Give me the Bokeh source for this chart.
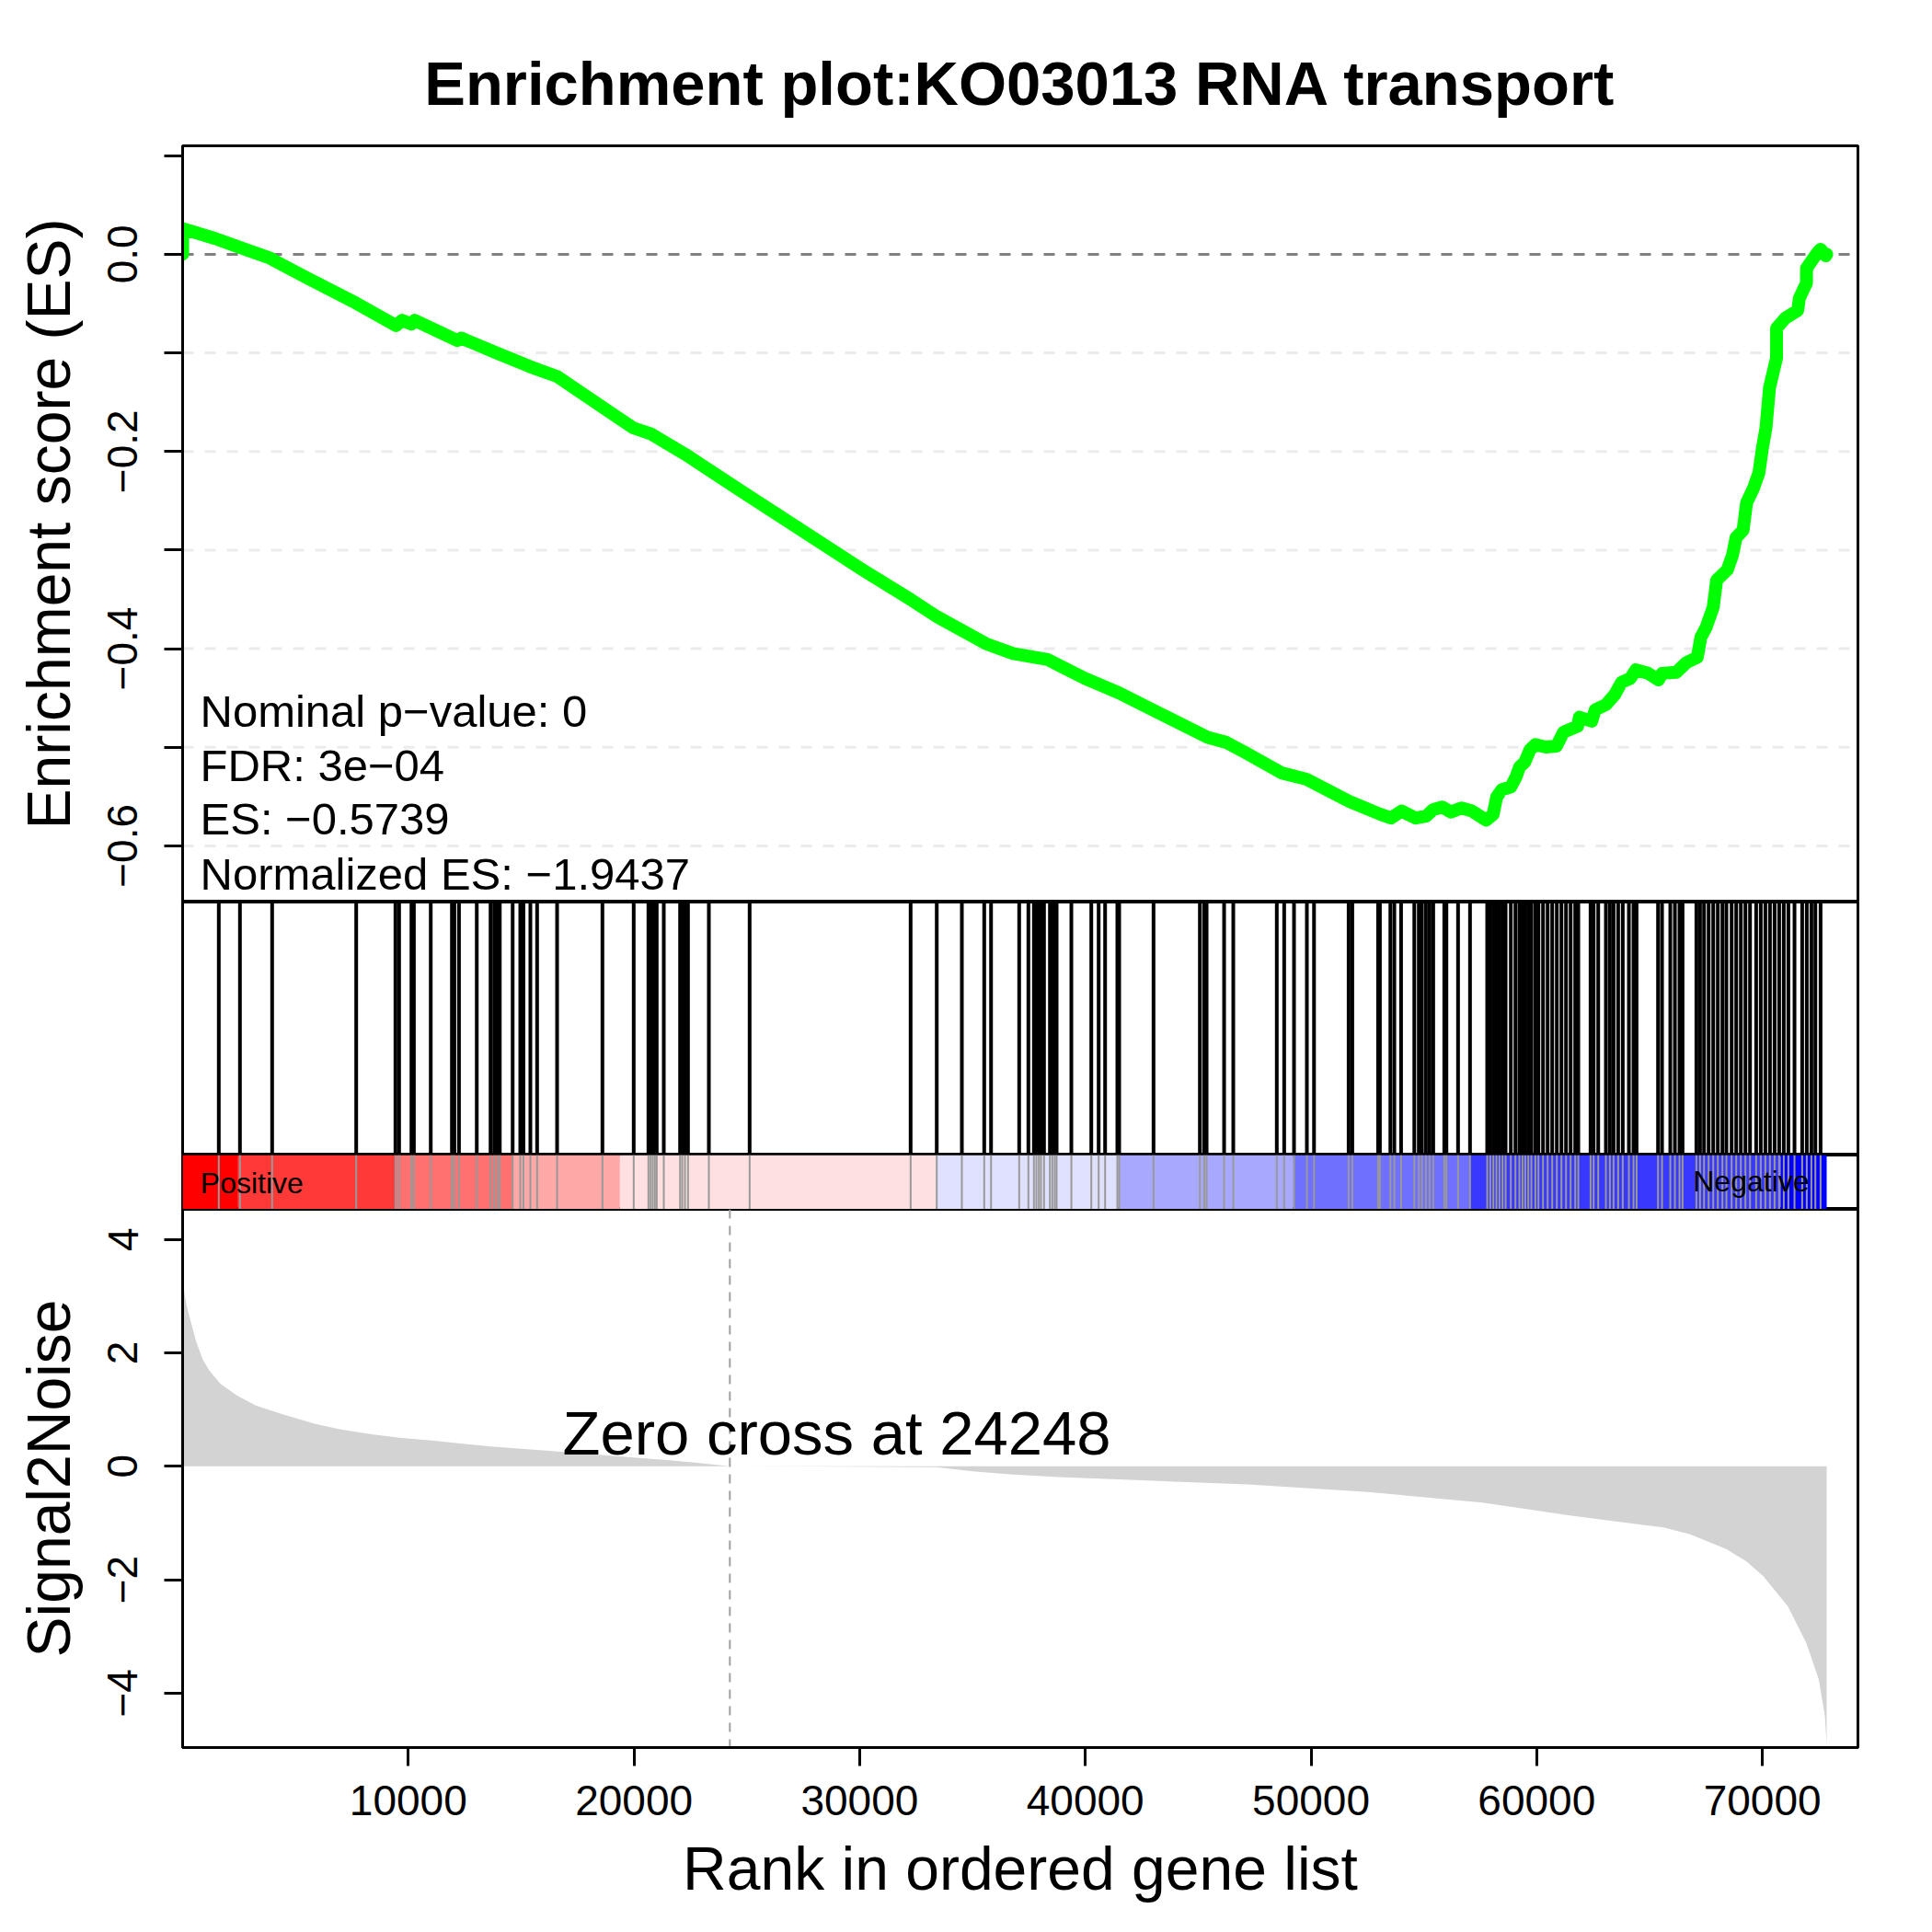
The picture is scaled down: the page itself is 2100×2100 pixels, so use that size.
from bokeh.plotting import figure
from bokeh.layouts import column
from bokeh.models import FixedTicker, Span, Range1d, CustomJSTickFormatter, Grid
from bokeh.core.properties import value
from bokeh.embed import file_html
from bokeh.resources import INLINE

FONT = "Liberation Sans"

# ---------------- data ----------------
title_text = "Enrichment plot:KO03013 RNA transport"
stats_lines = ["Nominal p\u2212value: 0", "FDR: 3e\u221204", "ES: \u22120.5739", "Normalized ES: \u22121.9437"]
zero_cross = 24248
n_genes = 72850
x_max = 74235

es_rank = [0, 1, 1440, 2528, 3886, 4030, 5517, 7692, 9458, 9731, 10139, 10275, 12177, 12350,
           13900, 15400, 16600, 18600, 19960, 20780, 22250, 24680, 30130, 32320, 33420, 35600,
           36800, 38330, 38880, 39970, 41500, 43240, 45420, 46240, 47060, 48700, 49800, 51710,
           53078, 53546, 54014, 54638, 55106, 55418, 55808, 56198, 56666, 57134, 57758, 58070,
           58226, 58460, 58850, 59084, 59240, 59474, 59708, 59942, 60410, 60878, 61190, 61814,
           61892, 62438, 62594, 63062, 63452, 63764, 64154, 64388, 64934, 65402, 65558, 66182,
           66650, 67118, 67274, 67508, 67820, 67976, 68444, 68678, 68834, 69146, 69302, 69614,
           69848, 70004, 70160, 70316, 70628, 70630, 71018, 71564, 71642, 71954, 71960, 72422,
           72578, 72812, 72850]
es_value = [0.0, 0.026, 0.016, 0.007, -0.004, -0.006, -0.024, -0.0496, -0.0723, -0.067, -0.0707,
            -0.067, -0.0875, -0.085, -0.100, -0.114, -0.124, -0.155, -0.176, -0.1825, -0.2025,
            -0.239, -0.32, -0.351, -0.3675, -0.395, -0.405, -0.411, -0.4175, -0.43, -0.445,
            -0.465, -0.49, -0.495, -0.505, -0.526, -0.5325, -0.555, -0.568, -0.5718, -0.5647,
            -0.5718, -0.5698, -0.5632, -0.5606, -0.5657, -0.5616, -0.5647, -0.5739, -0.5682,
            -0.5505, -0.5429, -0.5404, -0.5302, -0.5201, -0.515, -0.5024, -0.4973, -0.4998,
            -0.4988, -0.4847, -0.4786, -0.4695, -0.4736, -0.462, -0.4569, -0.4468, -0.4341,
            -0.4301, -0.4215, -0.425, -0.4316, -0.425, -0.424, -0.4139, -0.4088, -0.3886,
            -0.3784, -0.3582, -0.3304, -0.3202, -0.3051, -0.2874, -0.2798, -0.252, -0.2368,
            -0.2216, -0.1963, -0.1761, -0.1356, -0.1052, -0.075, -0.0647, -0.0571, -0.0445,
            -0.0293, -0.0141, 0.0011, 0.0051, -0.0015, 0.0]

hit_ranks = [1603, 2540, 3967, 7692, 9430, 9593, 10139, 10248, 10995, 11933, 12042, 12246, 13034,
             13645, 13808, 13943, 14054, 14624, 14962, 15101, 15410, 15708, 16593, 18602, 19988,
             20640, 20738, 20832, 20926, 21008, 21321, 22043, 22137, 22259, 22394, 23318, 25125,
             32259, 33416, 34529, 35520, 35822, 37069, 37477, 37721, 37831, 37940, 38034, 38170,
             38430, 38538, 38647, 38728, 39381, 40264, 40590, 40876, 41419, 41500, 43022, 45075,
             45265, 45374, 46149, 46556, 48484, 48811, 49247, 49817, 50133, 51667, 51830, 52972,
             53053, 53516, 53692, 53991, 54577, 54777, 54913, 55090, 55253, 55416, 55905, 56000,
             56516, 57046, 57807, 57943, 58079, 58215, 58351, 58487, 58623, 58854, 59058, 59234,
             59370, 59493, 59629, 59764, 59941, 60077, 60281, 60485, 60688, 60892, 61096, 61300,
             61504, 61708, 61844, 62387, 62523, 62727, 63067, 63243, 63406, 63610, 63814, 64086,
             64290, 64426, 65377, 65554, 65920, 66124, 66328, 66464, 67076, 67238, 67415, 67619,
             67823, 68026, 68230, 68407, 68638, 68842, 69046, 69250, 69453, 69725, 69929, 70133,
             70337, 70541, 70745, 70948, 71152, 71424, 71764, 71968, 72172, 72348, 72579]

metric_rank = [0, 100, 200, 383, 600, 905, 1200, 1684, 2400, 3246, 4400, 5844, 7000, 8447, 9700,
               11048, 12300, 13650, 15000, 16250, 17500, 18850, 20100, 21452, 22800, 24054,
               24248, 28000, 33390, 35000, 36788, 38810, 41993, 47193, 52397, 57597, 61472,
               65620, 66800, 68400, 69300, 70040, 71130, 71950, 72500, 72770, 72850]
metric_value = [3.3, 3.0, 2.8, 2.52, 2.2, 1.87, 1.68, 1.45, 1.25, 1.07, 0.92, 0.75, 0.65, 0.56,
                0.5, 0.456, 0.40, 0.35, 0.31, 0.27, 0.23, 0.19, 0.15, 0.11, 0.06, 0.01,
                0.0, -0.005, -0.016, -0.09, -0.145, -0.19, -0.24, -0.32, -0.45, -0.64, -0.866,
                -1.08, -1.2, -1.46, -1.68, -1.94, -2.47, -3.12, -3.76, -4.4, -4.9]

band_edges = [0, 2460, 9430, 14624, 19378, 33376, 41460, 49205, 57019, 70815, 72850]
band_colors = ["#FF0000", "#FF3838", "#FF7070", "#FFA8A8", "#FFE0E0",
               "#E0E0FF", "#A8A8FF", "#7070FF", "#3838FF", "#0000FF"]

es_major_ticks = [-0.6, -0.4, -0.2, 0.0]
es_minor_ticks = [-0.5, -0.3, -0.1, 0.1]
es_grid = [-0.1, -0.2, -0.3, -0.4, -0.5, -0.6]
metric_ticks = [-4, -2, 0, 2, 4]
rank_ticks = [10000, 20000, 30000, 40000, 50000, 60000, 70000]

# ---------------- layout constants ----------------
W = 2092
LB = 198
RB = W - 2019


def base(height, top=0, bottom=0, yr=(0, 1), xaxis=False, yaxis=False):
    p = figure(width=W, height=height, output_backend="svg", toolbar_location=None,
               x_range=Range1d(0, x_max), y_range=Range1d(*yr),
               x_axis_location="below" if xaxis else None,
               y_axis_location="left" if yaxis else None,
               min_border_left=LB, min_border_right=RB,
               min_border_top=top, min_border_bottom=bottom, sizing_mode="fixed")
    p.center = [c for c in p.center if not isinstance(c, Grid)]
    p.outline_line_color = "black"
    p.outline_line_width = 3
    p.outline_line_alpha = 1.0
    p.background_fill_color = "white"
    p.border_fill_color = "white"
    return p


def style_axis(ax):
    ax.axis_line_width = 3
    ax.major_tick_line_width = 3
    ax.minor_tick_line_width = 3
    ax.major_tick_out = 20
    ax.major_tick_in = 0
    ax.minor_tick_out = 20
    ax.minor_tick_in = 0
    ax.major_label_text_font = FONT
    ax.major_label_text_font_size = "46px"
    ax.major_label_text_color = "black"
    ax.axis_label_text_font = FONT
    ax.axis_label_text_font_size = "66px"
    ax.axis_label_text_font_style = "normal"
    ax.axis_label_text_color = "black"


# ---------- ES panel ----------
p1 = base(980, top=158, bottom=0, yr=(-0.657, 0.11), yaxis=True)
p1.title.text = title_text
p1.title.text_font = FONT
p1.title.text_font_size = "67px"
p1.title.text_font_style = "bold"
p1.title.text_color = "black"
p1.title.align = "center"
p1.title.standoff = 61
ya = p1.yaxis[0]
style_axis(ya)
ya.ticker = FixedTicker(ticks=es_major_ticks, minor_ticks=es_minor_ticks)
ya.formatter = CustomJSTickFormatter(code="return tick.toFixed(1).replace('-', '\u2212');")
ya.major_label_orientation = "vertical"
ya.major_label_standoff = 29
ya.axis_label = "Enrichment score (ES)"
ya.axis_label_standoff = 25
for g in es_grid:
    p1.add_layout(Span(location=g, dimension="width", line_color="#EBEBEB",
                       line_dash="12 12", line_width=3, level="underlay"))
p1.add_layout(Span(location=0, dimension="width", line_color="#808080",
                   line_dash="12 12", line_width=3, level="underlay"))
p1.line(es_rank, es_value, line_color="#00FF00", line_width=14,
        line_join="round", line_cap="round")
p1.text(x=[775] * 4, y=[-0.4637, -0.5187, -0.5725, -0.6287], text=stats_lines,
        text_font=value(FONT), text_font_size="49px", text_baseline="middle",
        text_color="black")

# ---------- hits panel ----------
p2 = base(275)
p2.segment(x0=hit_ranks, x1=hit_ranks, y0=[0] * len(hit_ranks), y1=[1] * len(hit_ranks),
           line_color="black", line_width=4)

# ---------- colour bar ----------
p3 = base(59)
p3.quad(left=band_edges[:-1], right=band_edges[1:], bottom=0, top=1,
        fill_color=band_colors, line_color=None)
p3.segment(x0=hit_ranks, x1=hit_ranks, y0=[0] * len(hit_ranks), y1=[1] * len(hit_ranks),
           line_color="#999999", line_width=2)
p3.text(x=[787], y=[0.48], text=["Positive"], text_font=value(FONT), text_font_size="32px",
        text_baseline="middle", text_align="left", text_color="black")
p3.text(x=[72076], y=[0.52], text=["Negative"], text_font=value(FONT), text_font_size="32px",
        text_baseline="middle", text_align="right", text_color="black")

# ---------- ranked metric ----------
p4 = base(776, top=0, bottom=191, yr=(-4.96, 4.53), xaxis=True, yaxis=True)
ya4 = p4.yaxis[0]
style_axis(ya4)
ya4.ticker = FixedTicker(ticks=metric_ticks)
ya4.formatter = CustomJSTickFormatter(code="return tick.toFixed(0).replace('-', '\u2212');")
ya4.major_label_orientation = "vertical"
ya4.major_label_standoff = 29
ya4.axis_label = "Signal2Noise"
ya4.axis_label_standoff = 25
xa = p4.xaxis[0]
style_axis(xa)
xa.ticker = FixedTicker(ticks=rank_ticks)
xa.formatter = CustomJSTickFormatter(code="return tick.toFixed(0);")
xa.major_label_standoff = 21
xa.axis_label = "Rank in ordered gene list"
xa.axis_label_standoff = 18
p4.varea(x=metric_rank, y1=[0] * len(metric_rank), y2=metric_value, fill_color="#D3D3D3")
p4.add_layout(Span(location=zero_cross, dimension="height", line_color="#A0A0A0",
                   line_dash="10 8", line_width=2, level="underlay"))
p4.text(x=[28985], y=[0.58], text=[f"Zero cross at {zero_cross}"], text_font=value(FONT),
        text_font_size="67px", text_align="center", text_baseline="middle",
        text_color="black")

layout = column(p1, p2, p3, p4, spacing=0)
open("out.html", "w").write(file_html(layout, INLINE))
